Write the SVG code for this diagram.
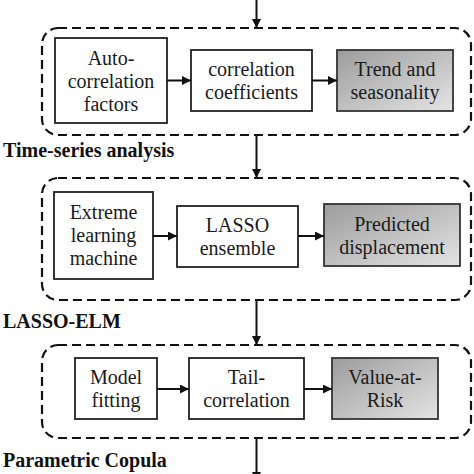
<svg xmlns="http://www.w3.org/2000/svg" width="474" height="474" viewBox="0 0 474 474">
<style>
.bg{fill:#fff}
.grp{fill:none;stroke:#111;stroke-width:2.2;stroke-dasharray:9 5}
.box{fill:#fff;stroke:#222;stroke-width:1.8}
.gbox{fill:url(#gr);stroke:#333;stroke-width:1.8}
.t{font-family:"Liberation Serif","Times New Roman",serif;font-size:20px;fill:#1a1a1a;text-anchor:middle}
.lbl{font-family:"Liberation Serif","Times New Roman",serif;font-size:20px;font-weight:bold;fill:#111}
.c{stroke:#111;stroke-width:2;fill:none;marker-end:url(#ah)}
</style>
<defs>
<linearGradient id="gr" x1="0" y1="0" x2="1" y2="1">
<stop offset="0" stop-color="#9c9c9c"/>
<stop offset="1" stop-color="#e4e4e4"/>
</linearGradient>
<marker id="ah" markerUnits="userSpaceOnUse" markerWidth="10" markerHeight="9" refX="9" refY="4.5" orient="auto">
<path d="M0,0 L9,4.5 L0,9 z" fill="#111"/>
</marker>
</defs>
<rect class="bg" x="0" y="0" width="474" height="474"/>

<g id="group-timeseries">
<rect class="grp" x="42" y="28" width="429" height="107" rx="16"/>
<text class="lbl" x="3" y="157">Time-series analysis</text>
</g>
<g id="group-lassoelm">
<rect class="grp" x="42" y="178" width="429" height="122" rx="16"/>
<text class="lbl" x="3" y="328">LASSO-ELM</text>
</g>
<g id="group-copula">
<rect class="grp" x="42" y="345" width="429" height="93" rx="16"/>
<text class="lbl" x="3" y="467">Parametric Copula</text>
</g>

<g id="n-autocorr">
<rect class="box" x="55" y="38" width="112" height="85"/>
<text class="t" x="111" y="64.5">Auto-</text>
<text class="t" x="111" y="87.5">correlation</text>
<text class="t" x="111" y="110.5">factors</text>
</g>
<g id="n-corrcoef">
<rect class="box" x="191" y="50" width="121" height="61"/>
<text class="t" x="251.5" y="76">correlation</text>
<text class="t" x="251.5" y="99">coefficients</text>
</g>
<g id="n-trend">
<rect class="gbox" x="337" y="50" width="116" height="61"/>
<text class="t" x="395" y="76">Trend and</text>
<text class="t" x="395" y="99">seasonality</text>
</g>

<g id="n-elm">
<rect class="box" x="54" y="192" width="99" height="87"/>
<text class="t" x="103.5" y="219">Extreme</text>
<text class="t" x="103.5" y="242">learning</text>
<text class="t" x="103.5" y="265">machine</text>
</g>
<g id="n-lasso">
<rect class="box" x="177" y="206" width="121" height="61"/>
<text class="t" x="237.5" y="232">LASSO</text>
<text class="t" x="237.5" y="255">ensemble</text>
</g>
<g id="n-pred">
<rect class="gbox" x="324" y="204" width="136" height="62"/>
<text class="t" x="392" y="231">Predicted</text>
<text class="t" x="392" y="254">displacement</text>
</g>

<g id="n-model">
<rect class="box" x="75" y="358" width="82" height="61"/>
<text class="t" x="116" y="384">Model</text>
<text class="t" x="116" y="407">fitting</text>
</g>
<g id="n-tail">
<rect class="box" x="189" y="358" width="115" height="61"/>
<text class="t" x="246.5" y="384">Tail-</text>
<text class="t" x="246.5" y="407">correlation</text>
</g>
<g id="n-var">
<rect class="gbox" x="332" y="358" width="106" height="61"/>
<text class="t" x="385" y="384">Value-at-</text>
<text class="t" x="385" y="407">Risk</text>
</g>

<g id="connectors">
<line class="c" x1="256.5" y1="0" x2="256.5" y2="28"/>
<line class="c" x1="256.5" y1="135" x2="256.5" y2="178"/>
<line class="c" x1="256.5" y1="300" x2="256.5" y2="345"/>
<line class="c" x1="256.5" y1="438" x2="256.5" y2="481"/>
<line class="c" x1="167" y1="80.5" x2="191" y2="80.5"/>
<line class="c" x1="312" y1="80.5" x2="337" y2="80.5"/>
<line class="c" x1="153" y1="236" x2="177" y2="236"/>
<line class="c" x1="298" y1="236" x2="324" y2="236"/>
<line class="c" x1="157" y1="389" x2="189" y2="389"/>
<line class="c" x1="304" y1="389" x2="332" y2="389"/>
</g>
</svg>
